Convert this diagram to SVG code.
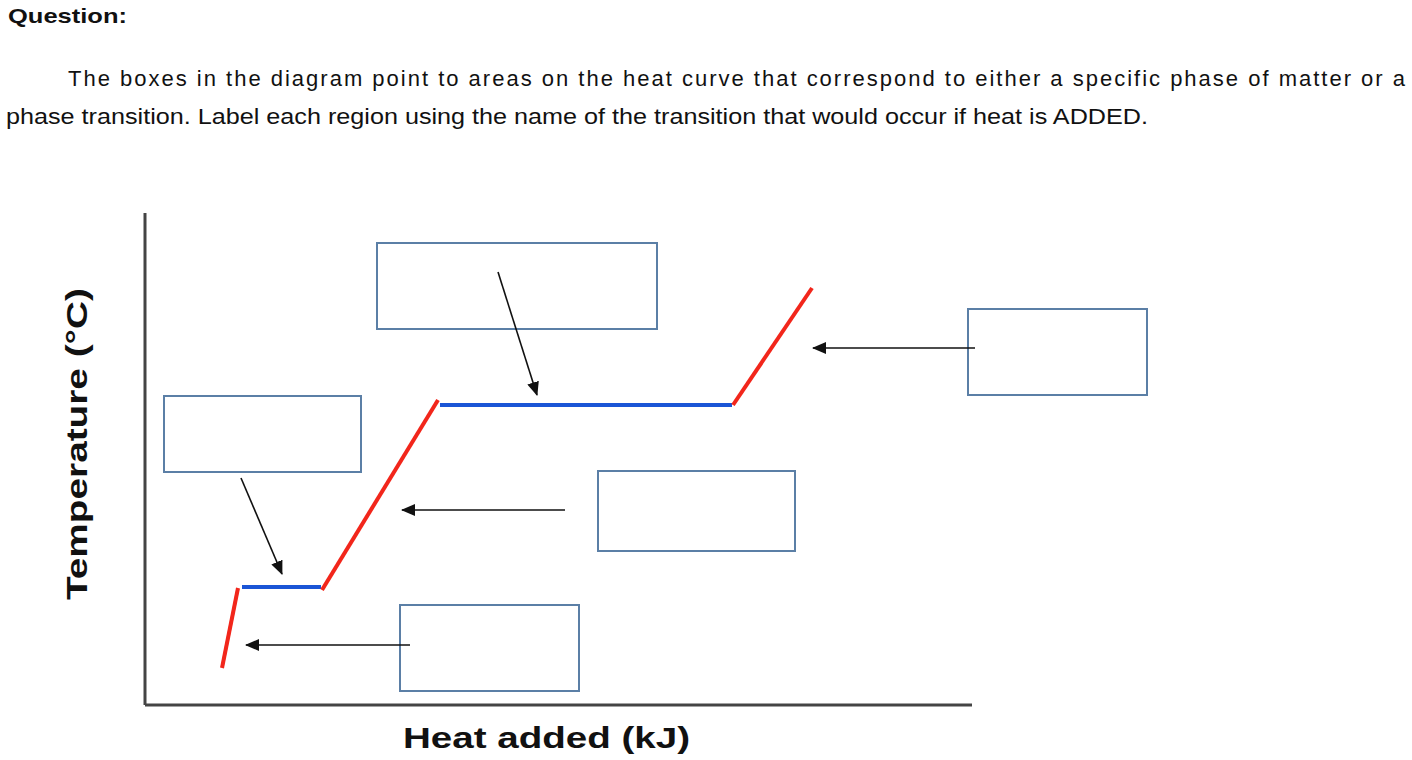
<svg xmlns="http://www.w3.org/2000/svg" width="1412" height="760" viewBox="0 0 1412 760">
<defs>
<marker id="ah" markerWidth="14" markerHeight="12" refX="13" refY="6" orient="auto" markerUnits="userSpaceOnUse"><path d="M0,0 L14,6 L0,12 z" fill="#111"/></marker>
<style>
.t{font-family:"Liberation Sans",Arial,sans-serif;fill:#111}
.box{fill:#fff;stroke:#5b7fa6;stroke-width:2}
.red{stroke:#f2261b;stroke-width:4;fill:none}
.blue{stroke:#1a55d6;stroke-width:4;fill:none}
.arr{stroke:#111;stroke-width:1.6;marker-end:url(#ah)}
</style>
</defs>
<rect width="1412" height="760" fill="#fff"/>
<text class="t" x="8" y="23" font-size="21" font-weight="bold" textLength="119" lengthAdjust="spacingAndGlyphs">Question:</text>
<text class="t" x="68" y="86" font-size="22" textLength="1337" lengthAdjust="spacing">The boxes in the diagram point to areas on the heat curve that correspond to either a specific phase of matter or a</text>
<text class="t" x="6" y="124" font-size="22" textLength="1142" lengthAdjust="spacingAndGlyphs">phase transition. Label each region using the name of the transition that would occur if heat is ADDED.</text>
<g id="axes" stroke="#444" stroke-width="3">
<line x1="145" y1="213" x2="145" y2="705"/>
<line x1="145" y1="705" x2="972" y2="705"/>
</g>
<g id="curve">
<line class="red" x1="222" y1="668" x2="238" y2="588"/>
<line class="blue" x1="242" y1="587" x2="321" y2="587"/>
<line class="red" x1="322" y1="590" x2="438" y2="400"/>
<line class="blue" x1="440" y1="405" x2="732" y2="405"/>
<line class="red" x1="733" y1="405" x2="812" y2="288"/>
</g>
<g id="box1"><rect class="box" x="377" y="243" width="280" height="86"/></g>
<g id="box2"><rect class="box" x="164" y="396" width="197" height="76"/></g>
<g id="box3"><rect class="box" x="598" y="471" width="197" height="80"/></g>
<g id="box4"><rect class="box" x="400" y="605" width="179" height="86"/></g>
<g id="box5"><rect class="box" x="968" y="309" width="179" height="86"/></g>
<g id="connectors">
<line class="arr" x1="498" y1="272" x2="537" y2="395"/>
<line class="arr" x1="241" y1="478" x2="282" y2="574"/>
<line class="arr" x1="975" y1="348" x2="813" y2="348"/>
<line class="arr" x1="565" y1="510" x2="402" y2="510"/>
<line class="arr" x1="410" y1="645" x2="246" y2="645"/>
</g>
<text class="t" x="403" y="748" font-size="30" font-weight="bold" textLength="287" lengthAdjust="spacingAndGlyphs">Heat added  (kJ)</text>
<text class="t" transform="translate(87,600) rotate(-90)" font-size="30" font-weight="bold" textLength="312" lengthAdjust="spacingAndGlyphs">Temperature (°C)</text>
</svg>
